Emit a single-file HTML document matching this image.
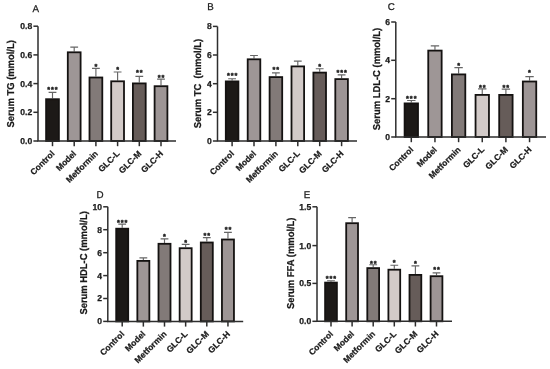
<!DOCTYPE html>
<html><head><meta charset="utf-8"><title>Serum lipid levels</title>
<style>
html,body{margin:0;padding:0;background:#fff;}
svg{display:block;}
text{font-family:'Liberation Sans', Arial, Helvetica, sans-serif;fill:#1a1a1a;stroke:#1a1a1a;stroke-width:0.25px;text-rendering:geometricPrecision;}
.lt{font-size:9.8px;font-weight:400;}
.tt{font-size:10.0px;font-weight:700;}
.tk{font-size:8.6px;font-weight:700;}
.xl{font-size:8.5px;font-weight:700;}
.st{font-size:7.3px;font-weight:700;letter-spacing:0.96px;stroke-width:0.35px;}
.ax{stroke:#2e2e2e;stroke-width:1.5;fill:none;}
.eb{stroke:#666;stroke-width:1.15;fill:none;}
.br{stroke:#141211;stroke-width:1.8;}
</style></head>
<body>
<svg width="550" height="369" viewBox="0 0 550 369">
<rect width="550" height="369" fill="#fff"/>
<text transform="translate(32.4 12.1) scale(1 1)" class="lt">A</text>
<text transform="translate(14.2 83.8) rotate(-90) scale(0.94 1)" text-anchor="middle" class="tt">Serum TG (mmol/L)</text>
<path d="M52.5 98.3V92.3M48.6 92.3H56.4" class="eb"/>
<rect x="46.1" y="99.2" width="12.8" height="41.8" fill="#1c1917" class="br"/>
<text x="52.98" y="92.32" text-anchor="middle" class="st">***</text>
<path d="M52.5 141V146.2" class="ax"/>
<text transform="translate(55.1 154.2) rotate(-45)" text-anchor="end" class="xl">Control</text>
<path d="M74.2 51.4V47.1M70.3 47.1H78.1" class="eb"/>
<rect x="67.8" y="52.3" width="12.8" height="88.7" fill="#9e9696" class="br"/>
<path d="M74.2 141V146.2" class="ax"/>
<text transform="translate(76.8 154.2) rotate(-45)" text-anchor="end" class="xl">Model</text>
<path d="M95.9 76.6V68.3M92 68.3H99.8" class="eb"/>
<rect x="89.5" y="77.5" width="12.8" height="63.5" fill="#827a78" class="br"/>
<text x="96.38" y="68.52" text-anchor="middle" class="st">*</text>
<path d="M95.9 141V146.2" class="ax"/>
<text transform="translate(98.5 154.2) rotate(-45)" text-anchor="end" class="xl">Metformin</text>
<path d="M117.6 80.4V72M113.7 72H121.5" class="eb"/>
<rect x="111.2" y="81.3" width="12.8" height="59.7" fill="#d2cac8" class="br"/>
<text x="118.08" y="72.12" text-anchor="middle" class="st">*</text>
<path d="M117.6 141V146.2" class="ax"/>
<text transform="translate(120.2 154.2) rotate(-45)" text-anchor="end" class="xl">GLC-L</text>
<path d="M139.3 82.5V76.3M135.4 76.3H143.2" class="eb"/>
<rect x="132.9" y="83.4" width="12.8" height="57.6" fill="#665c59" class="br"/>
<text x="139.78" y="75.12" text-anchor="middle" class="st">**</text>
<path d="M139.3 141V146.2" class="ax"/>
<text transform="translate(141.9 154.2) rotate(-45)" text-anchor="end" class="xl">GLC-M</text>
<path d="M161 85.3V79.1M157.1 79.1H164.9" class="eb"/>
<rect x="154.6" y="86.2" width="12.8" height="54.8" fill="#9d9595" class="br"/>
<text x="161.48" y="80.12" text-anchor="middle" class="st">**</text>
<path d="M161 141V146.2" class="ax"/>
<text transform="translate(163.6 154.2) rotate(-45)" text-anchor="end" class="xl">GLC-H</text>
<path d="M38 26.2V141H176" class="ax"/>
<path d="M33.4 141H38" class="ax"/>
<text x="32.2" y="143.9" text-anchor="end" class="tk">0.0</text>
<path d="M33.4 112.3H38" class="ax"/>
<text x="32.2" y="115.2" text-anchor="end" class="tk">0.2</text>
<path d="M33.4 83.6H38" class="ax"/>
<text x="32.2" y="86.5" text-anchor="end" class="tk">0.4</text>
<path d="M33.4 54.9H38" class="ax"/>
<text x="32.2" y="57.8" text-anchor="end" class="tk">0.6</text>
<path d="M33.4 26.2H38" class="ax"/>
<text x="32.2" y="29.1" text-anchor="end" class="tk">0.8</text>
<text transform="translate(207.3 9.7) scale(1 1)" class="lt">B</text>
<text transform="translate(201.3 83.5) rotate(-90) scale(0.94 1)" text-anchor="middle" class="tt">Serum TC  (mmol/L)</text>
<path d="M232.1 80.5V78.7M228.2 78.7H236" class="eb"/>
<rect x="225.8" y="81.4" width="12.6" height="59.6" fill="#1c1917" class="br"/>
<text x="232.58" y="78.42" text-anchor="middle" class="st">***</text>
<path d="M232.1 141V146.2" class="ax"/>
<text transform="translate(234.7 154.2) rotate(-45)" text-anchor="end" class="xl">Control</text>
<path d="M254 58.4V55.5M250.1 55.5H257.9" class="eb"/>
<rect x="247.7" y="59.3" width="12.6" height="81.7" fill="#9e9696" class="br"/>
<path d="M254 141V146.2" class="ax"/>
<text transform="translate(256.6 154.2) rotate(-45)" text-anchor="end" class="xl">Model</text>
<path d="M275.9 76.2V72.8M272 72.8H279.8" class="eb"/>
<rect x="269.6" y="77.1" width="12.6" height="63.9" fill="#827a78" class="br"/>
<text x="276.38" y="72.32" text-anchor="middle" class="st">**</text>
<path d="M275.9 141V146.2" class="ax"/>
<text transform="translate(278.5 154.2) rotate(-45)" text-anchor="end" class="xl">Metformin</text>
<path d="M297.8 65.5V61.1M293.9 61.1H301.7" class="eb"/>
<rect x="291.5" y="66.4" width="12.6" height="74.6" fill="#d2cac8" class="br"/>
<path d="M297.8 141V146.2" class="ax"/>
<text transform="translate(300.4 154.2) rotate(-45)" text-anchor="end" class="xl">GLC-L</text>
<path d="M319.7 71.7V68.7M315.8 68.7H323.6" class="eb"/>
<rect x="313.4" y="72.6" width="12.6" height="68.4" fill="#665c59" class="br"/>
<text x="320.18" y="68.62" text-anchor="middle" class="st">*</text>
<path d="M319.7 141V146.2" class="ax"/>
<text transform="translate(322.3 154.2) rotate(-45)" text-anchor="end" class="xl">GLC-M</text>
<path d="M341.6 78.2V74.8M337.7 74.8H345.5" class="eb"/>
<rect x="335.3" y="79.1" width="12.6" height="61.9" fill="#9d9595" class="br"/>
<text x="342.08" y="75.12" text-anchor="middle" class="st">***</text>
<path d="M341.6 141V146.2" class="ax"/>
<text transform="translate(344.2 154.2) rotate(-45)" text-anchor="end" class="xl">GLC-H</text>
<path d="M217.5 26.4V141H357" class="ax"/>
<path d="M212.9 141H217.5" class="ax"/>
<text x="211.7" y="143.9" text-anchor="end" class="tk">0</text>
<path d="M212.9 112.3H217.5" class="ax"/>
<text x="211.7" y="115.2" text-anchor="end" class="tk">2</text>
<path d="M212.9 83.7H217.5" class="ax"/>
<text x="211.7" y="86.6" text-anchor="end" class="tk">4</text>
<path d="M212.9 55H217.5" class="ax"/>
<text x="211.7" y="57.9" text-anchor="end" class="tk">6</text>
<path d="M212.9 26.4H217.5" class="ax"/>
<text x="211.7" y="29.3" text-anchor="end" class="tk">8</text>
<text transform="translate(387.8 9.9) scale(1 1)" class="lt">C</text>
<text transform="translate(379.8 79) rotate(-90) scale(0.94 1)" text-anchor="middle" class="tt">Serum LDL-C (mmol/L)</text>
<path d="M411.3 102.5V100.5M407.1 100.5H415.5" class="eb"/>
<rect x="404.6" y="103.4" width="13.4" height="33.6" fill="#1c1917" class="br"/>
<text x="411.78" y="100.62" text-anchor="middle" class="st">***</text>
<path d="M411.3 137V142.2" class="ax"/>
<text transform="translate(413.9 150.2) rotate(-45)" text-anchor="end" class="xl">Control</text>
<path d="M434.95 49.7V45.9M430.75 45.9H439.15" class="eb"/>
<rect x="428.25" y="50.6" width="13.4" height="86.4" fill="#9e9696" class="br"/>
<path d="M434.95 137V142.2" class="ax"/>
<text transform="translate(437.55 150.2) rotate(-45)" text-anchor="end" class="xl">Model</text>
<path d="M458.6 73.5V67.6M454.4 67.6H462.8" class="eb"/>
<rect x="451.9" y="74.4" width="13.4" height="62.6" fill="#827a78" class="br"/>
<text x="459.08" y="67.52" text-anchor="middle" class="st">*</text>
<path d="M458.6 137V142.2" class="ax"/>
<text transform="translate(461.2 150.2) rotate(-45)" text-anchor="end" class="xl">Metformin</text>
<path d="M482.25 94V88.9M478.05 88.9H486.45" class="eb"/>
<rect x="475.55" y="94.9" width="13.4" height="42.1" fill="#d2cac8" class="br"/>
<text x="482.73" y="89.72" text-anchor="middle" class="st">**</text>
<path d="M482.25 137V142.2" class="ax"/>
<text transform="translate(484.85 150.2) rotate(-45)" text-anchor="end" class="xl">GLC-L</text>
<path d="M505.9 94V89.1M501.7 89.1H510.1" class="eb"/>
<rect x="499.2" y="94.9" width="13.4" height="42.1" fill="#665c59" class="br"/>
<text x="506.38" y="89.52" text-anchor="middle" class="st">**</text>
<path d="M505.9 137V142.2" class="ax"/>
<text transform="translate(508.5 150.2) rotate(-45)" text-anchor="end" class="xl">GLC-M</text>
<path d="M529.55 80.6V76.6M525.35 76.6H533.75" class="eb"/>
<rect x="522.85" y="81.5" width="13.4" height="55.5" fill="#9d9595" class="br"/>
<text x="530.03" y="75.42" text-anchor="middle" class="st">*</text>
<path d="M529.55 137V142.2" class="ax"/>
<text transform="translate(532.15 150.2) rotate(-45)" text-anchor="end" class="xl">GLC-H</text>
<path d="M395.8 22V137H546" class="ax"/>
<path d="M391.2 137H395.8" class="ax"/>
<text x="390" y="139.9" text-anchor="end" class="tk">0</text>
<path d="M391.2 98.7H395.8" class="ax"/>
<text x="390" y="101.6" text-anchor="end" class="tk">2</text>
<path d="M391.2 60.3H395.8" class="ax"/>
<text x="390" y="63.2" text-anchor="end" class="tk">4</text>
<path d="M391.2 22H395.8" class="ax"/>
<text x="390" y="24.9" text-anchor="end" class="tk">6</text>
<text transform="translate(96.5 197.6) scale(1 1)" class="lt">D</text>
<text transform="translate(87.1 262.9) rotate(-90) scale(0.94 1)" text-anchor="middle" class="tt">Serum HDL-C (mmol/L)</text>
<path d="M122.2 227.8V224.1M118.3 224.1H126.1" class="eb"/>
<rect x="116.2" y="228.7" width="12" height="92.7" fill="#1c1917" class="br"/>
<text x="122.68" y="224.72" text-anchor="middle" class="st">***</text>
<path d="M122.2 321.4V326.6" class="ax"/>
<text transform="translate(124.8 334.6) rotate(-45)" text-anchor="end" class="xl">Control</text>
<path d="M143.35 260V257.8M139.45 257.8H147.25" class="eb"/>
<rect x="137.35" y="260.9" width="12" height="60.5" fill="#9e9696" class="br"/>
<path d="M143.35 321.4V326.6" class="ax"/>
<text transform="translate(145.95 334.6) rotate(-45)" text-anchor="end" class="xl">Model</text>
<path d="M164.5 242.9V238.9M160.6 238.9H168.4" class="eb"/>
<rect x="158.5" y="243.8" width="12" height="77.6" fill="#827a78" class="br"/>
<text x="164.98" y="238.82" text-anchor="middle" class="st">*</text>
<path d="M164.5 321.4V326.6" class="ax"/>
<text transform="translate(167.1 334.6) rotate(-45)" text-anchor="end" class="xl">Metformin</text>
<path d="M185.65 247.3V244.4M181.75 244.4H189.55" class="eb"/>
<rect x="179.65" y="248.2" width="12" height="73.2" fill="#d2cac8" class="br"/>
<text x="186.13" y="244.62" text-anchor="middle" class="st">*</text>
<path d="M185.65 321.4V326.6" class="ax"/>
<text transform="translate(188.25 334.6) rotate(-45)" text-anchor="end" class="xl">GLC-L</text>
<path d="M206.8 241.6V237.6M202.9 237.6H210.7" class="eb"/>
<rect x="200.8" y="242.5" width="12" height="78.9" fill="#665c59" class="br"/>
<text x="207.28" y="237.72" text-anchor="middle" class="st">**</text>
<path d="M206.8 321.4V326.6" class="ax"/>
<text transform="translate(209.4 334.6) rotate(-45)" text-anchor="end" class="xl">GLC-M</text>
<path d="M227.95 238.6V232.4M224.05 232.4H231.85" class="eb"/>
<rect x="221.95" y="239.5" width="12" height="81.9" fill="#9d9595" class="br"/>
<text x="228.43" y="232.32" text-anchor="middle" class="st">**</text>
<path d="M227.95 321.4V326.6" class="ax"/>
<text transform="translate(230.55 334.6) rotate(-45)" text-anchor="end" class="xl">GLC-H</text>
<path d="M107.8 206.8V321.4H243.2" class="ax"/>
<path d="M103.2 321.4H107.8" class="ax"/>
<text x="102" y="324.3" text-anchor="end" class="tk">0</text>
<path d="M103.2 298.5H107.8" class="ax"/>
<text x="102" y="301.4" text-anchor="end" class="tk">2</text>
<path d="M103.2 275.6H107.8" class="ax"/>
<text x="102" y="278.5" text-anchor="end" class="tk">4</text>
<path d="M103.2 252.7H107.8" class="ax"/>
<text x="102" y="255.6" text-anchor="end" class="tk">6</text>
<path d="M103.2 229.7H107.8" class="ax"/>
<text x="102" y="232.6" text-anchor="end" class="tk">8</text>
<path d="M103.2 206.8H107.8" class="ax"/>
<text x="102" y="209.7" text-anchor="end" class="tk">10</text>
<text transform="translate(303.7 197.6) scale(1 1)" class="lt">E</text>
<text transform="translate(294.2 263.3) rotate(-90) scale(0.94 1)" text-anchor="middle" class="tt">Serum FFA (mmol/L)</text>
<path d="M331 281.7V280.7M327.1 280.7H334.9" class="eb"/>
<rect x="325.1" y="282.6" width="11.8" height="38.7" fill="#1c1917" class="br"/>
<text x="331.48" y="281.42" text-anchor="middle" class="st">***</text>
<path d="M331 321.3V326.5" class="ax"/>
<text transform="translate(333.6 334.5) rotate(-45)" text-anchor="end" class="xl">Control</text>
<path d="M352.1 222.3V217.6M348.2 217.6H356" class="eb"/>
<rect x="346.2" y="223.2" width="11.8" height="98.1" fill="#9e9696" class="br"/>
<path d="M352.1 321.3V326.5" class="ax"/>
<text transform="translate(354.7 334.5) rotate(-45)" text-anchor="end" class="xl">Model</text>
<path d="M373.2 267.2V264.7M369.3 264.7H377.1" class="eb"/>
<rect x="367.3" y="268.1" width="11.8" height="53.2" fill="#827a78" class="br"/>
<text x="373.68" y="265.52" text-anchor="middle" class="st">**</text>
<path d="M373.2 321.3V326.5" class="ax"/>
<text transform="translate(375.8 334.5) rotate(-45)" text-anchor="end" class="xl">Metformin</text>
<path d="M394.3 268.8V265.2M390.4 265.2H398.2" class="eb"/>
<rect x="388.4" y="269.7" width="11.8" height="51.6" fill="#d2cac8" class="br"/>
<text x="394.78" y="265.32" text-anchor="middle" class="st">*</text>
<path d="M394.3 321.3V326.5" class="ax"/>
<text transform="translate(396.9 334.5) rotate(-45)" text-anchor="end" class="xl">GLC-L</text>
<path d="M415.4 274V265.9M411.5 265.9H419.3" class="eb"/>
<rect x="409.5" y="274.9" width="11.8" height="46.4" fill="#665c59" class="br"/>
<text x="415.88" y="265.82" text-anchor="middle" class="st">*</text>
<path d="M415.4 321.3V326.5" class="ax"/>
<text transform="translate(418 334.5) rotate(-45)" text-anchor="end" class="xl">GLC-M</text>
<path d="M436.5 275.3V272.8M432.6 272.8H440.4" class="eb"/>
<rect x="430.6" y="276.2" width="11.8" height="45.1" fill="#9d9595" class="br"/>
<text x="436.98" y="272.32" text-anchor="middle" class="st">**</text>
<path d="M436.5 321.3V326.5" class="ax"/>
<text transform="translate(439.1 334.5) rotate(-45)" text-anchor="end" class="xl">GLC-H</text>
<path d="M317 206.8V321.3H452" class="ax"/>
<path d="M312.4 321.3H317" class="ax"/>
<text x="311.2" y="324.2" text-anchor="end" class="tk">0.0</text>
<path d="M312.4 283.4H317" class="ax"/>
<text x="311.2" y="286.3" text-anchor="end" class="tk">0.5</text>
<path d="M312.4 245.6H317" class="ax"/>
<text x="311.2" y="248.5" text-anchor="end" class="tk">1.0</text>
<path d="M312.4 206.8H317" class="ax"/>
<text x="311.2" y="209.7" text-anchor="end" class="tk">1.5</text>
</svg>
</body></html>
